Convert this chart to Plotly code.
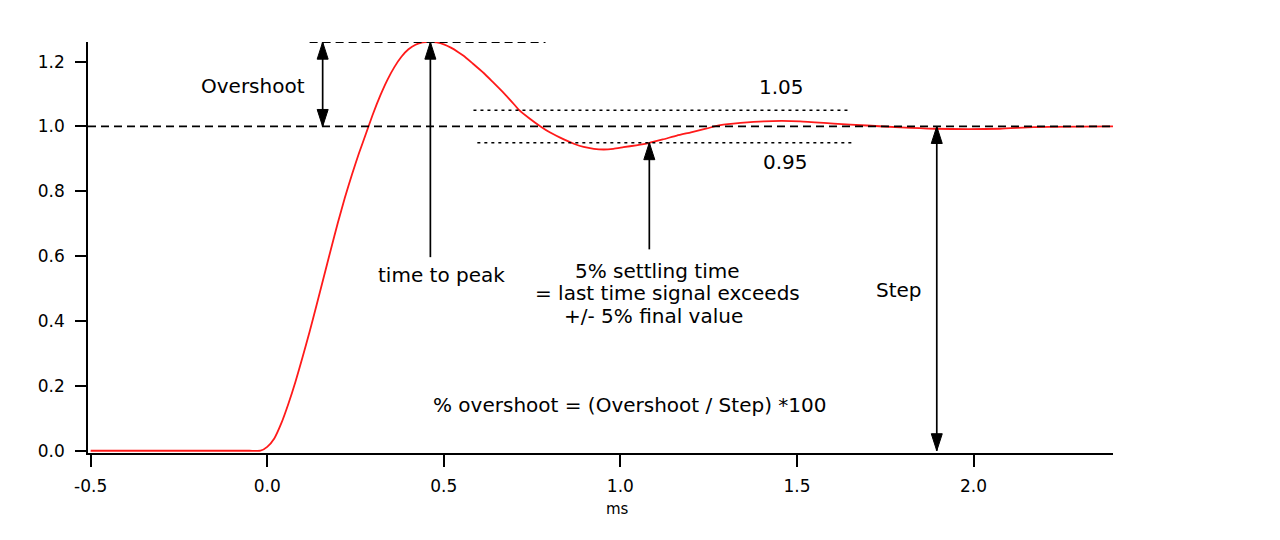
import plotly.graph_objects as go

# ---- data (time in ms, normalized response) ----
time_ms = [-0.5, -0.1, -0.05, -0.019, 0.0, 0.02, 0.04, 0.06, 0.08, 0.10, 0.12, 0.14, 0.16,
           0.18, 0.20, 0.22, 0.24, 0.26, 0.28, 0.30, 0.32, 0.34, 0.36, 0.38, 0.40, 0.42,
           0.44, 0.462, 0.48, 0.50, 0.52, 0.54, 0.556, 0.58, 0.613, 0.64, 0.67, 0.70, 0.712,
           0.74, 0.774, 0.80, 0.84, 0.87, 0.896, 0.925, 0.953, 0.98, 1.009, 1.045, 1.080,
           1.12, 1.160, 1.20, 1.245, 1.283, 1.340, 1.406, 1.509, 1.604, 1.698, 1.793, 1.887,
           2.075, 2.170, 2.395]
response = [0.0, 0.0, 0.0, 0.0, 0.012, 0.038, 0.085, 0.145, 0.213, 0.288, 0.367, 0.450,
            0.535, 0.620, 0.703, 0.781, 0.852, 0.918, 0.979, 1.040, 1.095, 1.143, 1.183,
            1.215, 1.238, 1.252, 1.259, 1.261, 1.259, 1.253, 1.243, 1.230, 1.218, 1.196,
            1.165, 1.136, 1.103, 1.067, 1.052, 1.027, 1.000, 0.982, 0.960, 0.946, 0.937,
            0.931, 0.929, 0.931, 0.936, 0.942, 0.949, 0.960, 0.972, 0.982, 0.994, 1.004,
            1.011, 1.016, 1.016, 1.009, 1.003, 0.997, 0.993, 0.993, 0.998, 1.0]

x_ticks = [-0.5, 0.0, 0.5, 1.0, 1.5, 2.0]
y_ticks = [0.0, 0.2, 0.4, 0.6, 0.8, 1.0, 1.2]

final_value = 1.0
band_hi = 1.05
band_lo = 0.95
peak_value = 1.26
peak_time = 0.462
settling_time = 1.082
overshoot_arrow_x = 0.157
step_arrow_x = 1.896

x_range = [-0.5075, 2.395]
y_range = [-0.007, 1.2605]

FONT = "DejaVu Sans"
fig = go.Figure()

fig.add_trace(go.Scatter(x=time_ms, y=response, mode="lines",
                         line=dict(color="#ff1a1a", width=1.8, shape="spline", smoothing=0.5),
                         hoverinfo="skip", showlegend=False))

shapes = []
# dashed reference lines
shapes.append(dict(type="line", xref="paper", yref="y", x0=0, x1=1, y0=final_value, y1=final_value,
                   line=dict(color="black", width=1.7, dash="8px,5px")))
shapes.append(dict(type="line", xref="x", yref="y", x0=0.12, x1=0.788, y0=peak_value, y1=peak_value,
                   line=dict(color="black", width=1.7, dash="8px,5px")))
# dotted +/- 5% band
shapes.append(dict(type="line", xref="x", yref="y", x0=0.584, x1=1.645, y0=band_hi, y1=band_hi,
                   line=dict(color="black", width=1.6, dash="3px,4px")))
shapes.append(dict(type="line", xref="x", yref="y", x0=0.595, x1=1.657, y0=band_lo, y1=band_lo,
                   line=dict(color="black", width=1.6, dash="3px,4px")))

HEAD_UP = "M0,0 L-5.5,-17 L5.5,-17 Z"
HEAD_DOWN = "M0,0 L-5.5,17 L5.5,17 Z"


def arrow(x, y_from, y_to, double=False):
    shapes.append(dict(type="line", xref="x", yref="y", x0=x, x1=x, y0=y_from, y1=y_to,
                       line=dict(color="black", width=1.7)))
    up = y_to > y_from
    shapes.append(dict(type="path", xref="x", yref="y", xsizemode="pixel", ysizemode="pixel",
                       xanchor=x, yanchor=y_to, path=HEAD_UP if up else HEAD_DOWN,
                       fillcolor="black", line=dict(color="black", width=1)))
    if double:
        shapes.append(dict(type="path", xref="x", yref="y", xsizemode="pixel", ysizemode="pixel",
                           xanchor=x, yanchor=y_from, path=HEAD_DOWN if up else HEAD_UP,
                           fillcolor="black", line=dict(color="black", width=1)))


arrow(overshoot_arrow_x, final_value, peak_value, double=True)
arrow(peak_time, 0.597, peak_value)
arrow(settling_time, 0.621, band_lo)
arrow(step_arrow_x, final_value, 0.0, double=True)

annotations = []


def label(text, x, y, size=20, yref="y"):
    annotations.append(dict(text=text, x=x, y=y, xref="x", yref=yref, showarrow=False,
                            xanchor="center", yanchor="middle",
                            font=dict(family=FONT, size=size, color="black")))


label("Overshoot", -0.039, 1.124)
label("time to peak", 0.493, 0.542)
label("1.05", 1.456, 1.122)
label("0.95", 1.467, 0.891)
label("5% settling time", 1.104, 0.555)
label("= last time signal exceeds", 1.134, 0.487)
label("+/- 5% final value", 1.093, 0.416)
label("% overshoot = (Overshoot / Step) *100", 1.028, 0.141)
label("Step", 1.790, 0.495)
label("ms", 0.991, -0.136, size=15, yref="paper")

fig.update_layout(
    width=1264, height=524,
    margin=dict(l=80, r=159, t=34, b=79),
    paper_bgcolor="white", plot_bgcolor="white",
    shapes=shapes, annotations=annotations,
    font=dict(family=FONT, color="black"),
    xaxis=dict(range=x_range, tickvals=x_ticks, ticktext=[f"{v:.1f}" for v in x_ticks],
               showgrid=False, zeroline=False,
               showline=True, linecolor="black", linewidth=1.7, ticks="outside", ticklen=12,
               tickwidth=1.7, tickcolor="black", ticklabelstandoff=5,
               tickfont=dict(family=FONT, size=17, color="black")),
    yaxis=dict(range=y_range, tickvals=y_ticks, ticktext=[f"{v:.1f}" for v in y_ticks],
               showgrid=False, zeroline=False,
               showline=True, linecolor="black", linewidth=1.7, ticks="outside", ticklen=11,
               tickwidth=1.7, tickcolor="black", ticklabelstandoff=7,
               tickfont=dict(family=FONT, size=17, color="black")),
)

fig.write_html("out.html")
